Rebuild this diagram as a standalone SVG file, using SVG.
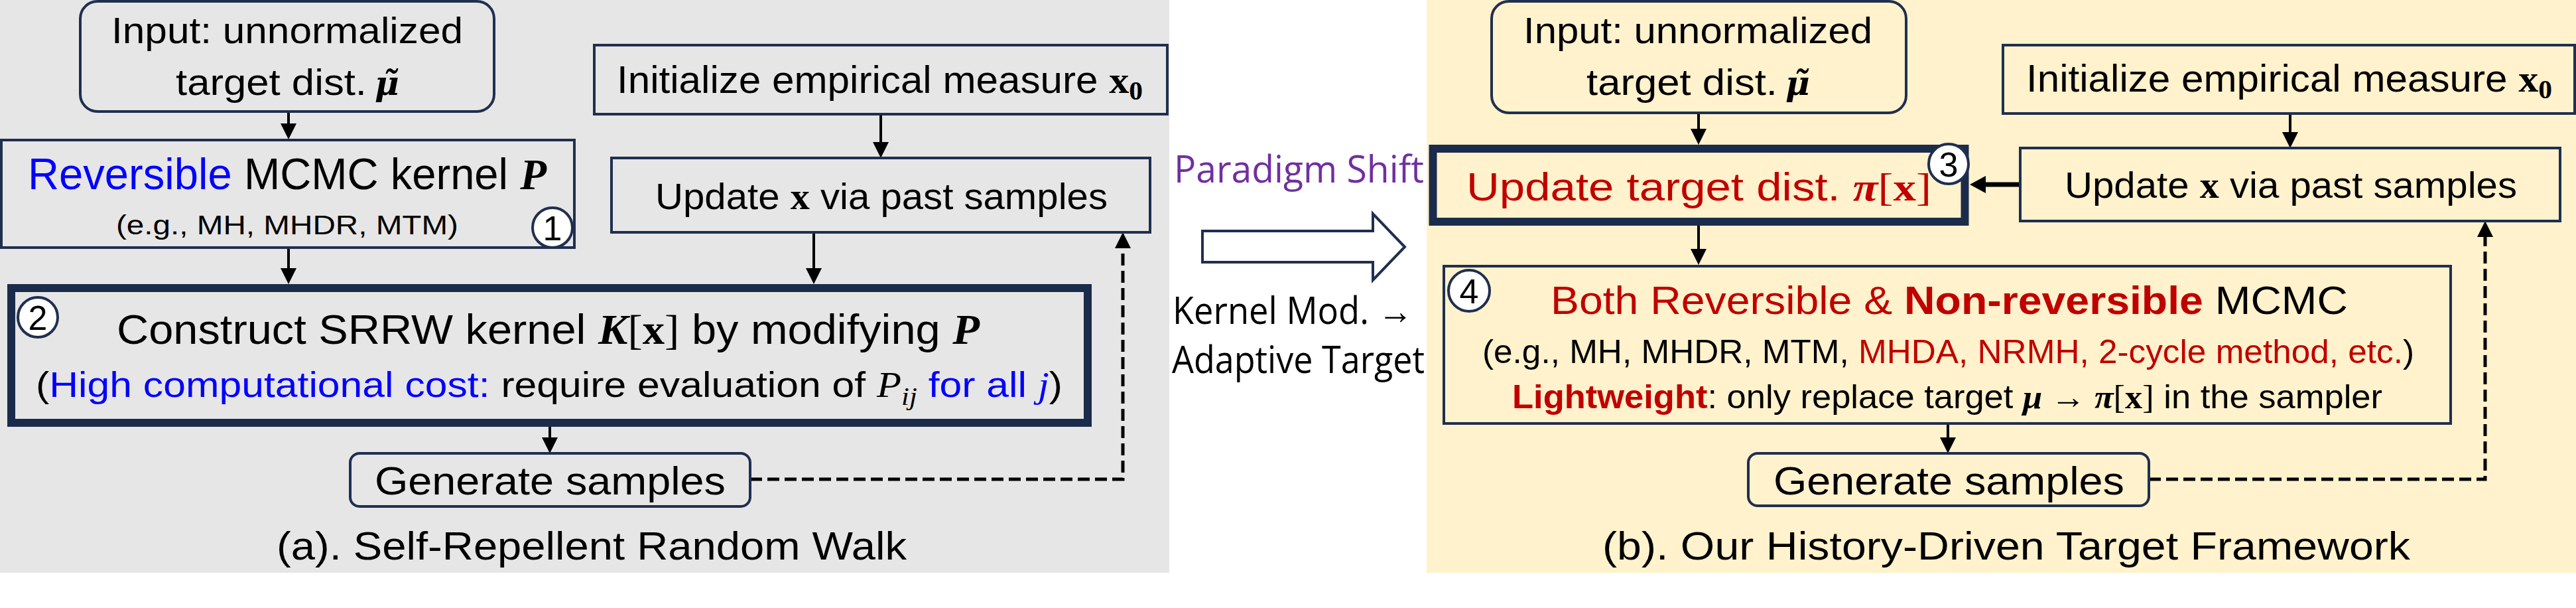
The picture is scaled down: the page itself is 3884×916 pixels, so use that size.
<svg xmlns="http://www.w3.org/2000/svg" width="3884" height="916" viewBox="0 0 3884 916">
<style>
.box{fill:none;stroke:#1F2F4F;stroke-width:4}
.thick{fill:none;stroke:#1B2B4B;stroke-width:12}
.ci{fill:#fff;stroke:#1F2F4F;stroke-width:4}
.t{font-family:"Liberation Sans",Arial,sans-serif;fill:#000}
.o{font-family:"Open Sans","Liberation Sans",sans-serif;fill:#000}
.m{font-family:"Liberation Serif","DejaVu Serif",serif}
.bi{font-family:"Liberation Serif","DejaVu Serif",serif;font-weight:bold;font-style:italic}
.bx{font-family:"Liberation Serif","DejaVu Serif",serif;font-weight:bold}
.mu{font-family:"DejaVu Serif","Liberation Serif",serif;font-weight:bold;font-style:italic;font-size:50px;fill:#000}
.blue{fill:#0000FF}
.red{fill:#C00000}
.num{font-family:"Liberation Sans",Arial,sans-serif;font-size:52px;fill:#000;text-anchor:middle}
.ln{fill:none;stroke:#000;stroke-width:4}
.dash{fill:none;stroke:#000;stroke-width:5;stroke-dasharray:18 8}
</style>
<defs>
<marker id="ah" markerUnits="userSpaceOnUse" markerWidth="26" markerHeight="26" refX="2" refY="12" orient="auto"><path d="M0,0 L24,12 L0,24 z" fill="#000"/></marker>
<marker id="ah2" markerUnits="userSpaceOnUse" markerWidth="30" markerHeight="30" refX="2" refY="13" orient="auto"><path d="M0,0 L24,13 L0,26 z" fill="#000"/></marker>
</defs>

<g id="panels">
<rect x="0" y="0" width="1763" height="863" fill="#E7E6E6"/>
<rect x="2151" y="0" width="1733" height="863" fill="#FFF2CC"/>
</g>

<g id="connectors">
<path class="ln" d="M435,168 V188" marker-end="url(#ah)"/>
<path class="ln" d="M435,373 V406" marker-end="url(#ah)"/>
<path class="ln" d="M1328,172 V216" marker-end="url(#ah)"/>
<path class="ln" d="M1227,350 V406" marker-end="url(#ah)"/>
<path class="ln" d="M829,643 V661" marker-end="url(#ah)"/>
<path class="dash" d="M1131,722 H1693 V372" marker-end="url(#ah)"/>
<path class="ln" d="M2561,170 V196" marker-end="url(#ah)"/>
<path class="ln" d="M2561,340 V377" marker-end="url(#ah)"/>
<path class="ln" d="M2937,638 V661" marker-end="url(#ah)"/>
<path class="ln" d="M3453,171 V201" marker-end="url(#ah)"/>
<path fill="none" stroke="#000" stroke-width="7" d="M3046,278 H2992" marker-end="url(#ah2)"/>
<path class="dash" d="M3240,722 H3747 V355" marker-end="url(#ah)"/>
</g>

<g id="shift">
<polygon points="1813,348 2070,348 2070,322 2118,372 2070,422 2070,395 1813,395" fill="#fff" stroke="#1F2F4F" stroke-width="4"/>
<text class="o" x="1770" y="275" font-size="56" style="fill:#7030A0" textLength="377" lengthAdjust="spacingAndGlyphs">Paradigm Shift</text>
<text class="o" x="1768" y="488" font-size="56" textLength="362" lengthAdjust="spacingAndGlyphs">Kernel Mod. →</text>
<text class="o" x="1767" y="562" font-size="56" textLength="381" lengthAdjust="spacingAndGlyphs">Adaptive Target</text>
</g>

<!-- Left panel -->
<g id="a-input">
<rect class="box" x="121" y="2" width="624" height="166" rx="26"/>
<text class="t" x="168" y="65" font-size="56" textLength="530" lengthAdjust="spacingAndGlyphs">Input: unnormalized</text>
<text class="t" x="265" y="143" font-size="56" textLength="288" lengthAdjust="spacingAndGlyphs">target dist.</text>
<text class="mu" x="565" y="143">μ̃</text>
</g>

<g id="a-reversible">
<rect class="box" x="2" y="211" width="864" height="162"/>
<text class="t" x="42" y="285" font-size="66" textLength="782" lengthAdjust="spacingAndGlyphs"><tspan class="blue">Reversible</tspan> MCMC kernel <tspan class="bi">P</tspan></text>
<text class="t" x="175" y="353" font-size="40" textLength="516" lengthAdjust="spacingAndGlyphs">(e.g., MH, MHDR, MTM)</text>
<circle class="ci" cx="833" cy="343" r="30"/>
<text class="num" x="833" y="362">1</text>
</g>

<g id="a-init">
<rect class="box" x="896" y="68" width="864" height="104"/>
<text class="t" x="930" y="140" font-size="58" textLength="793" lengthAdjust="spacingAndGlyphs">Initialize empirical measure <tspan class="bx">x</tspan><tspan class="bx" font-size="40" dy="10">0</tspan></text>
</g>

<g id="a-update">
<rect class="box" x="922" y="238" width="812" height="112"/>
<text class="t" x="988" y="315" font-size="56" textLength="682" lengthAdjust="spacingAndGlyphs">Update <tspan class="bx">x</tspan> via past samples</text>
</g>

<g id="a-srrw">
<rect class="thick" x="17" y="434" width="1623" height="203"/>
<circle class="ci" cx="57" cy="478" r="30"/>
<text class="num" x="57" y="497">2</text>
<text class="t" x="176" y="518" font-size="63" textLength="1301" lengthAdjust="spacingAndGlyphs">Construct SRRW kernel <tspan class="bi">K</tspan><tspan class="m">[</tspan><tspan class="bx">x</tspan><tspan class="m">]</tspan> by modifying <tspan class="bi">P</tspan></text>
<text class="t" x="54" y="598" font-size="54" textLength="1548" lengthAdjust="spacingAndGlyphs">(<tspan class="blue">High computational cost:</tspan> require evaluation of <tspan class="m" font-style="italic">P</tspan><tspan class="m" font-style="italic" font-size="38" dy="12">ij</tspan><tspan class="blue" dy="-12"> for all </tspan><tspan class="blue m" font-style="italic">j</tspan>)</text>
</g>

<g id="a-generate">
<rect class="box" x="528" y="683" width="603" height="80" rx="14"/>
<text class="t" x="565" y="745" font-size="60" textLength="529" lengthAdjust="spacingAndGlyphs">Generate samples</text>
</g>

<g id="a-caption">
<text class="t" x="417" y="843" font-size="60" textLength="950" lengthAdjust="spacingAndGlyphs">(a). Self-Repellent Random Walk</text>
</g>

<!-- Right panel -->
<g id="b-input">
<rect class="box" x="2249" y="2" width="625" height="168" rx="26"/>
<text class="t" x="2297" y="65" font-size="56" textLength="526" lengthAdjust="spacingAndGlyphs">Input: unnormalized</text>
<text class="t" x="2392" y="143" font-size="56" textLength="288" lengthAdjust="spacingAndGlyphs">target dist.</text>
<text class="mu" x="2692" y="143">μ̃</text>
</g>

<g id="b-target">
<rect class="thick" x="2160.5" y="224" width="802" height="110"/>
<text class="t red" x="2211" y="302" font-size="60" textLength="701" lengthAdjust="spacingAndGlyphs">Update target dist. <tspan class="bi">π</tspan><tspan class="m">[</tspan><tspan class="bx">x</tspan><tspan class="m">]</tspan></text>
<circle class="ci" cx="2938" cy="247" r="30"/>
<text class="num" x="2938" y="266">3</text>
</g>

<g id="b-init">
<rect class="box" x="3020" y="68" width="862" height="103"/>
<text class="t" x="3055" y="138" font-size="58" textLength="793" lengthAdjust="spacingAndGlyphs">Initialize empirical measure <tspan class="bx">x</tspan><tspan class="bx" font-size="40" dy="10">0</tspan></text>
</g>

<g id="b-update">
<rect class="box" x="3046" y="223" width="814" height="110"/>
<text class="t" x="3113" y="298" font-size="56" textLength="682" lengthAdjust="spacingAndGlyphs">Update <tspan class="bx">x</tspan> via past samples</text>
</g>

<g id="b-mcmc">
<rect class="box" x="2177" y="401" width="1518" height="237"/>
<circle class="ci" cx="2215" cy="438" r="31"/>
<text class="num" x="2215" y="457">4</text>
<text class="t" x="2338" y="473" font-size="60" textLength="1202" lengthAdjust="spacingAndGlyphs"><tspan class="red">Both Reversible &amp; </tspan><tspan class="red" font-weight="bold">Non-reversible</tspan> MCMC</text>
<text class="t" x="2235" y="547" font-size="50" textLength="1405" lengthAdjust="spacingAndGlyphs">(e.g., MH, MHDR, MTM, <tspan class="red">MHDA, NRMH, 2-cycle method, etc.</tspan>)</text>
<text class="t" x="2280" y="615" font-size="50" textLength="1312" lengthAdjust="spacingAndGlyphs"><tspan class="red" font-weight="bold">Lightweight</tspan>: only replace target <tspan class="bi">μ</tspan><tspan class="m"> → </tspan><tspan class="bi">π</tspan><tspan class="m">[</tspan><tspan class="bx">x</tspan><tspan class="m">]</tspan> in the sampler</text>
</g>

<g id="b-generate">
<rect class="box" x="2636" y="683" width="604" height="79" rx="14"/>
<text class="t" x="2674" y="745" font-size="60" textLength="529" lengthAdjust="spacingAndGlyphs">Generate samples</text>
</g>

<g id="b-caption">
<text class="t" x="2416" y="843" font-size="60" textLength="1218" lengthAdjust="spacingAndGlyphs">(b). Our History-Driven Target Framework</text>
</g>
</svg>
